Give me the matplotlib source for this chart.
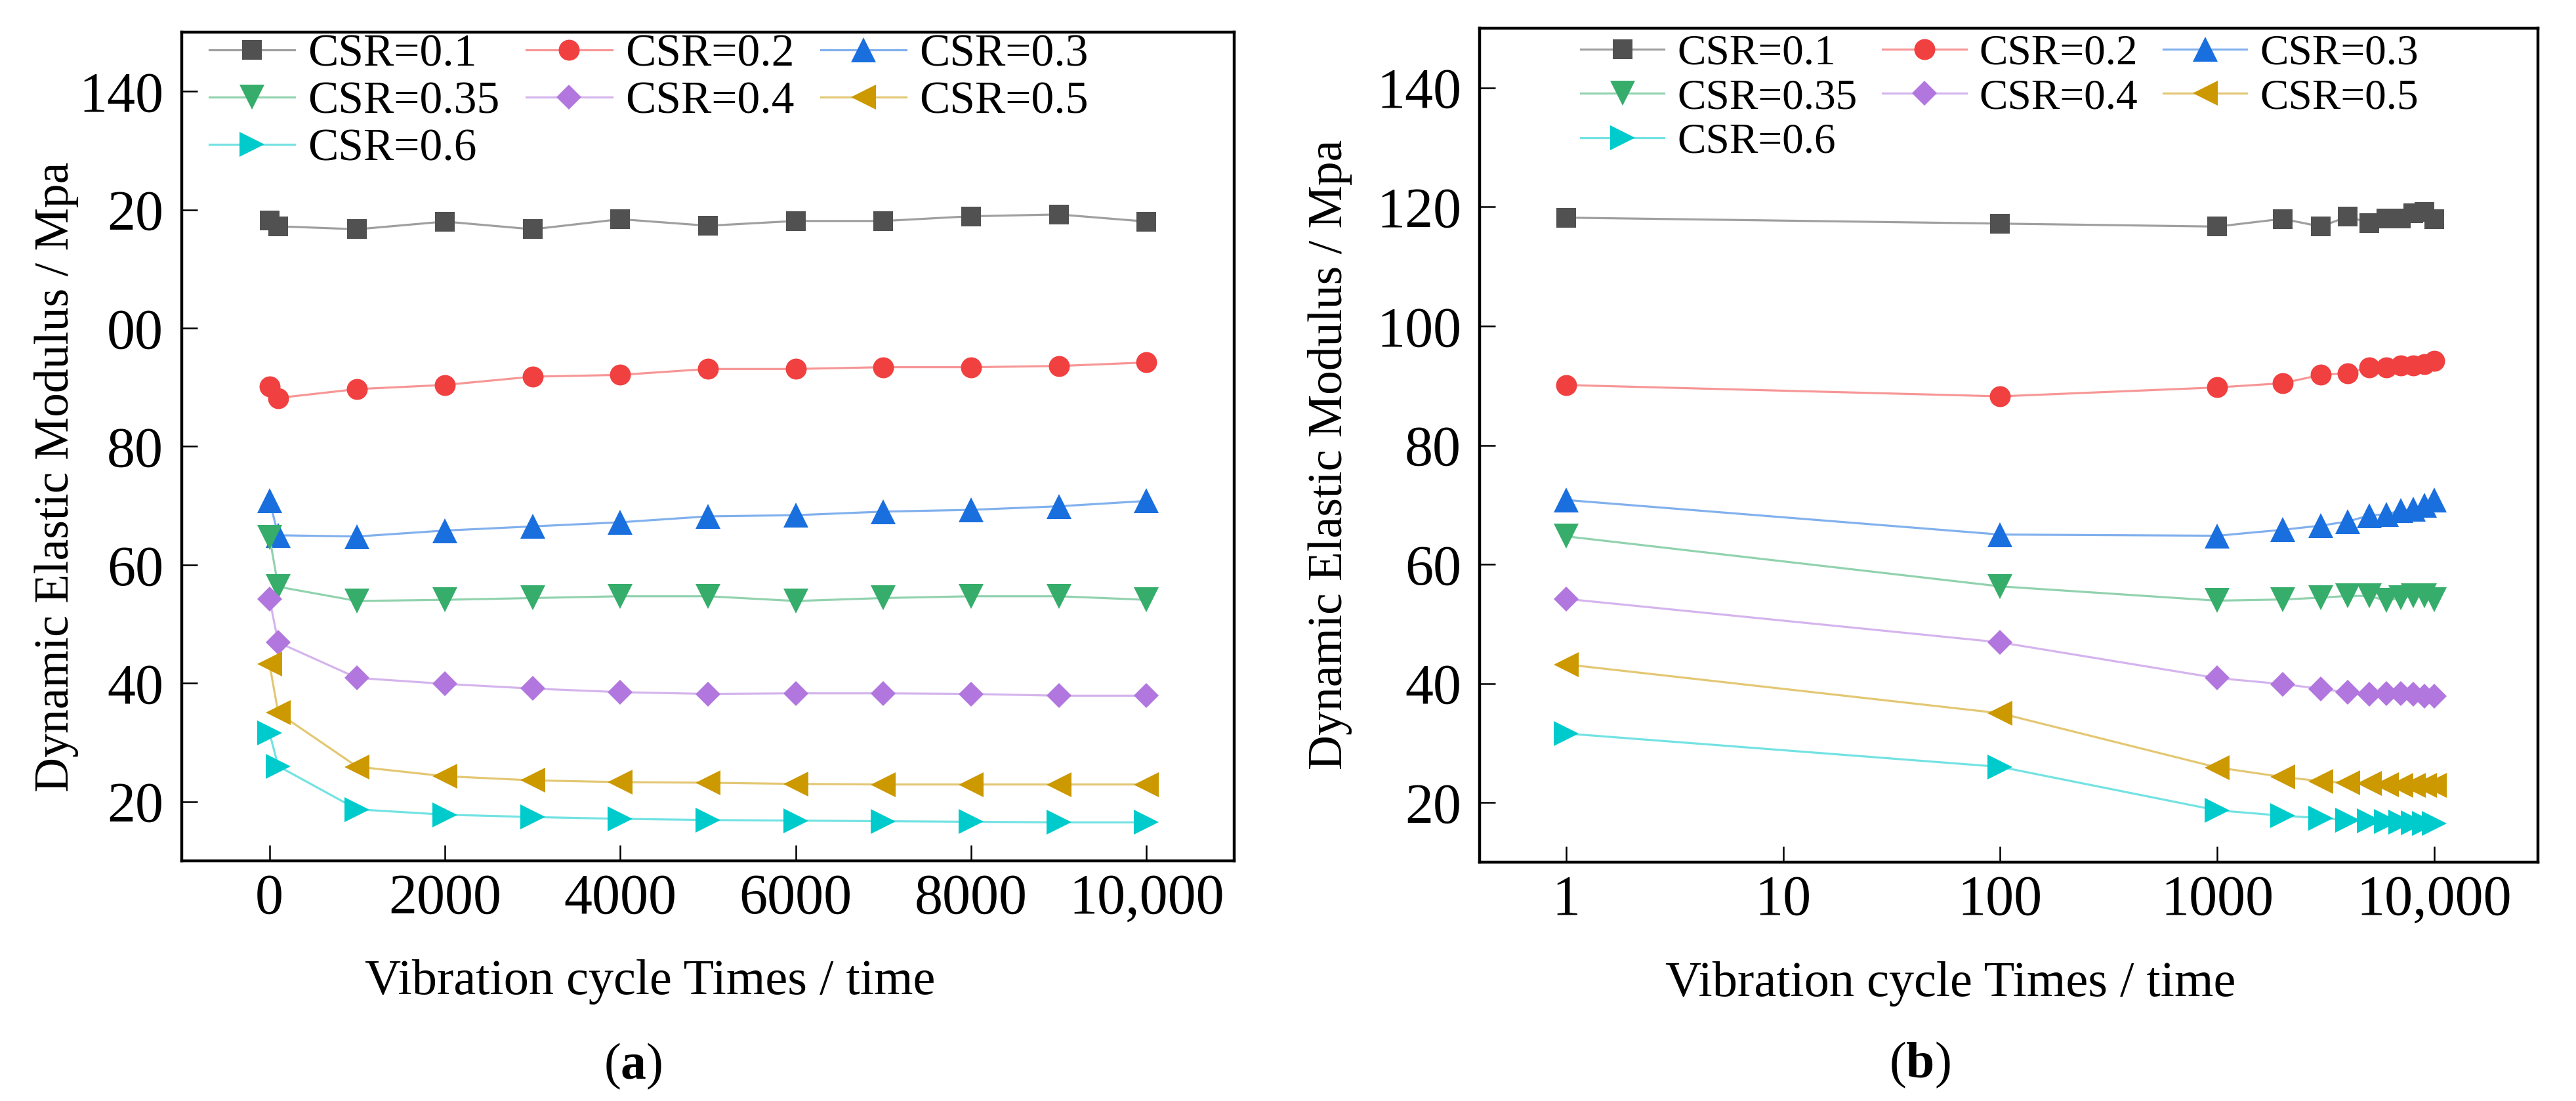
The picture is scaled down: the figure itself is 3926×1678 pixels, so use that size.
import numpy as np
import matplotlib
matplotlib.use("Agg")
import matplotlib.pyplot as plt
from matplotlib.colors import to_rgb

plt.rcParams['font.family'] = ['Liberation Serif', 'DejaVu Serif']
plt.rcParams['mathtext.fontset'] = 'custom'
plt.rcParams['mathtext.rm'] = 'Liberation Serif'
plt.rcParams['mathtext.bf'] = 'Liberation Serif:bold'

# vibration cycles
cycles = [1, 100, 1000, 2000, 3000, 4000, 5000, 6000, 7000, 8000, 9000, 10000]

labels = ["CSR=0.1", "CSR=0.2", "CSR=0.3", "CSR=0.35", "CSR=0.4", "CSR=0.5", "CSR=0.6"]
csr_01 = [118.2, 117.2, 116.7, 118.0, 116.7, 118.4, 117.3, 118.1, 118.1, 118.9, 119.2, 118.0]
csr_02 = [90.1, 88.2, 89.7, 90.4, 91.8, 92.1, 93.1, 93.1, 93.4, 93.4, 93.6, 94.2]
csr_03 = [70.8, 65.0, 64.8, 65.8, 66.5, 67.2, 68.2, 68.4, 69.0, 69.3, 69.9, 70.8]
csr_035 = [64.7, 56.3, 53.9, 54.1, 54.4, 54.7, 54.7, 53.9, 54.4, 54.7, 54.7, 54.1]
csr_04 = [54.2, 46.9, 40.9, 39.9, 39.1, 38.5, 38.2, 38.3, 38.3, 38.2, 37.9, 37.9]
csr_05 = [43.2, 35.0, 25.9, 24.3, 23.6, 23.3, 23.2, 23.0, 22.9, 22.9, 22.9, 22.9]
csr_06 = [31.6, 26.0, 18.7, 17.8, 17.4, 17.1, 16.9, 16.8, 16.7, 16.6, 16.5, 16.5]
series = [csr_01, csr_02, csr_03, csr_035, csr_04, csr_05, csr_06]

colors = ["#515151", "#F14040", "#1A6FDF", "#37AD6B", "#B177DE", "#CC9900", "#00CBCC"]
markers = ["s", "o", "^", "v", "D", "<", ">"]
msizes = [22, 23, 27, 27, 19, 27, 27]

left_yticklabels = ["20", "40", "60", "80", "00", "20", "140"]
right_yticklabels = ["20", "40", "60", "80", "100", "120", "140"]
left_xticks = [0, 2000, 4000, 6000, 8000, 10000]
left_xticklabels = ["0", "2000", "4000", "6000", "8000", "10,000"]
right_xticks = [1, 10, 100, 1000, 10000]
right_xticklabels = ["1", "10", "100", "1000", "10,000"]


def lighten(c, f=0.45):
    r, g, b = to_rgb(c)
    return (r + (1 - r) * f, g + (1 - g) * f, b + (1 - b) * f)


fig = plt.figure(figsize=(39.26, 16.78), dpi=100)
ax1 = fig.add_axes([0.07056, 0.21812, 0.40856, 0.75268])
ax2 = fig.add_axes([0.57438, 0.21692, 0.41085, 0.75745])

# legend rows: 0.1 0.2 0.3 / 0.35 0.4 0.5 / 0.6
order = [0, 3, 6, 1, 4, 2, 5]
handles = {}

for ax in (ax1, ax2):
    lines = []
    for y, c, m, ms, lab in zip(series, colors, markers, msizes, labels):
        ln, = ax.plot(cycles, y, color=lighten(c), lw=2.3, marker=m, ms=ms,
                      mfc=c, mec=c, mew=0, label=lab)
        lines.append(ln)
    handles[ax] = [lines[i] for i in order]
    ax.set_ylim(10, 150)
    ax.set_yticks([20, 40, 60, 80, 100, 120, 140])
    for s in ax.spines.values():
        s.set_linewidth(3.2)
    ax.tick_params(axis='both', which='major', direction='in', length=17,
                   width=1.8, top=False, right=False, labelsize=62)
    ax.tick_params(axis='x', pad=14)
    ax.tick_params(axis='y', pad=20)
    ax.tick_params(which='minor', length=0)
    ax.set_xlabel("Vibration cycle Times / time", fontsize=55)
    ax.set_ylabel("Dynamic Elastic Modulus / Mpa", fontsize=53)

ax1.set_xlim(-1000, 11000)
ax1.set_xticks(left_xticks)
ax1.set_xticklabels(left_xticklabels)
ax1.set_yticklabels(left_yticklabels)
ax1.xaxis.set_label_coords(0.445, -0.119)
ax1.yaxis.set_label_coords(-0.098, 0.463)
ax1.legend(handles=handles[ax1], ncol=3, loc='upper left',
           bbox_to_anchor=(0.026, 0.998), frameon=False, fontsize=50,
           borderpad=0, borderaxespad=0, handlelength=1.88, handletextpad=0.29,
           columnspacing=0.58, labelspacing=0.12)

ax2.set_xscale('log')
ax2.set_xlim(0.4, 30000)
ax2.set_xticks(right_xticks)
ax2.set_xticklabels(right_xticklabels)
ax2.set_yticklabels(right_yticklabels)
ax2.xaxis.set_label_coords(0.445, -0.119)
ax2.yaxis.set_label_coords(-0.120, 0.489)
ax2.legend(handles=handles[ax2], ncol=3, loc='upper left',
           bbox_to_anchor=(0.0955, 0.993), frameon=False, fontsize=47,
           borderpad=0, borderaxespad=0, handlelength=1.95, handletextpad=0.3,
           columnspacing=0.6, labelspacing=0.12)

fig.text(965 / 3926, 1 - 1625 / 1678, r"($\mathbf{a}$)", fontsize=56,
         ha='center', va='center')
fig.text(2926 / 3926, 1 - 1623 / 1678, r"($\mathbf{b}$)", fontsize=56,
         ha='center', va='center')

fig.savefig("out.png", dpi=100)
